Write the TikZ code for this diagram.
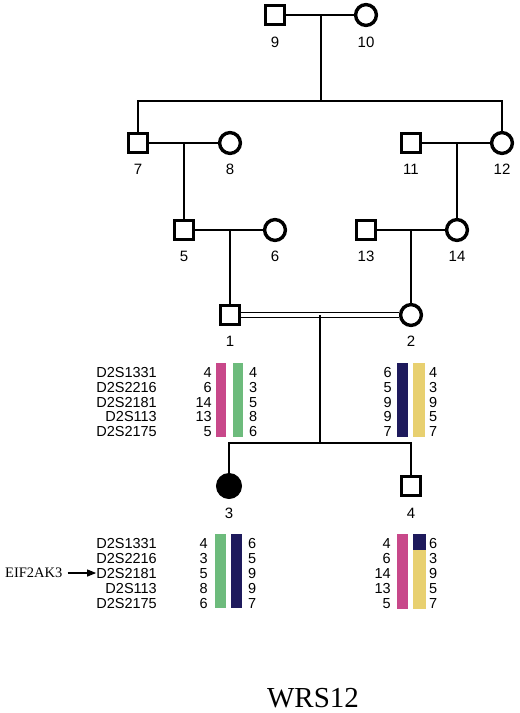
\documentclass[tikz,border=0pt]{standalone}
\usepackage{fontspec}
\setmainfont{Liberation Serif}
\setsansfont{Liberation Sans}
\usetikzlibrary{arrows.meta}
\definecolor{hpink}{HTML}{C8488A}
\definecolor{hgreen}{HTML}{6DBB7C}
\definecolor{hnavy}{HTML}{1E1A5C}
\definecolor{hyellow}{HTML}{E8D070}
\tikzset{
  male/.style={draw, rectangle, line width=2.8pt, minimum size=18.5pt, inner sep=0pt},
  female/.style={draw, circle, line width=3.4pt, minimum size=20.8pt, inner sep=0pt},
  affected/.style={draw, circle, line width=1pt, fill=black, minimum size=25pt, inner sep=0pt},
  lbl/.style={font=\sffamily\fontsize{15}{15}\selectfont, inner sep=0pt},
  mk/.style={font=\sffamily\fontsize{14.5}{14.5}\selectfont, inner sep=0pt, text height=10.4pt, text depth=0pt},
  rel/.style={line width=1.8pt}
}
\begin{document}
\begin{tikzpicture}[x=1pt,y=-1pt]
\useasboundingbox (0,0) rectangle (520,713);
% generation I
\node[male] (n9) at (275,15) {};
\node[female] (n10) at (366,15) {};
\node[lbl] (l9) at (275,42) {9};
\node[lbl] (l10) at (366,42) {10};
% generation II
\node[male] (n7) at (138,143) {};
\node[female] (n8) at (230,143) {};
\node[male] (n11) at (411,143) {};
\node[female] (n12) at (502,143) {};
\node[lbl] (l7) at (138,169) {7};
\node[lbl] (l8) at (230,169) {8};
\node[lbl] (l11) at (411,169) {11};
\node[lbl] (l12) at (502,169) {12};
% generation III
\node[male] (n5) at (184,230) {};
\node[female] (n6) at (275,230) {};
\node[male] (n13) at (366,230) {};
\node[female] (n14) at (457,230) {};
\node[lbl] (l5) at (184,256) {5};
\node[lbl] (l6) at (275,256) {6};
\node[lbl] (l13) at (366,256) {13};
\node[lbl] (l14) at (457,256) {14};
% generation IV
\node[male] (n1) at (230,315) {};
\node[female] (n2) at (411,315) {};
\node[lbl] (l1) at (230,341) {1};
\node[lbl] (l2) at (411,341) {2};
% generation V
\node[affected] (n3) at (229,486) {};
\node[male] (n4) at (411,486) {};
\node[lbl] (l3) at (229,513) {3};
\node[lbl] (l4) at (411,513) {4};

% connectors
\coordinate (m910) at (321,15);
\coordinate (s910) at (321,101);
\draw[rel] (n9) -- (n10);
\draw[rel] (m910) -- (s910);
\draw[rel] (n7.north) |- (s910) -| (n12.north);
\coordinate (m78) at (184,143);
\coordinate (m1112) at (457,143);
\draw[rel] (n7) -- (n8);
\draw[rel] (n11) -- (n12);
\draw[rel] (m78) -- (n5);
\draw[rel] (m1112) -- (n14);
\coordinate (m56) at (230,230);
\coordinate (m1314) at (411,230);
\draw[rel] (n5) -- (n6);
\draw[rel] (n13) -- (n14);
\draw[rel] (m56) -- (n1);
\draw[rel] (m1314) -- (n2);
\draw[line width=1.4pt, double, double distance=3.2pt] (n1) -- (n2);
\coordinate (m12) at (320,315);
\coordinate (s12) at (320,443);
\draw[rel] (m12) -- (s12);
\draw[rel] (n3.north) |- (s12) -| (n4.north);

% haplotypes of parents
\foreach \nm/\y/\a/\b/\c/\d [count=\i] in {D2S1331/372/4/4/6/4, D2S2216/387/6/3/5/3, D2S2181/402/14/5/9/9, D2S113/416/13/8/9/5, D2S2175/431/5/6/7/7}{
  \node[mk, anchor=east] (pm\i) at (157,\y) {\nm};
  \node[mk, anchor=east] (pa\i) at (212,\y) {\a};
  \node[mk, anchor=west] (pb\i) at (249,\y) {\b};
  \node[mk, anchor=east] (pc\i) at (392,\y) {\c};
  \node[mk, anchor=west] (pd\i) at (429,\y) {\d};
}
\fill[hpink] (216,363) rectangle (226,437);
\fill[hgreen] (233,363) rectangle (243,437);
\fill[hnavy] (397,363) rectangle (408,437);
\fill[hyellow] (413,363) rectangle (425,437);

% haplotypes of children
\foreach \nm/\y/\a/\b/\c/\d [count=\i] in {D2S1331/543/4/6/4/6, D2S2216/558/3/5/6/3, D2S2181/573/5/9/14/9, D2S113/588/8/9/13/5, D2S2175/603/6/7/5/7}{
  \node[mk, anchor=east] (cm\i) at (157,\y) {\nm};
  \node[mk, anchor=east] (ca\i) at (208,\y) {\a};
  \node[mk, anchor=west] (cb\i) at (248,\y) {\b};
  \node[mk, anchor=east] (cc\i) at (391,\y) {\c};
  \node[mk, anchor=west] (cd\i) at (429,\y) {\d};
}
\fill[hgreen] (215,534) rectangle (226,608);
\fill[hnavy] (231,534) rectangle (242,608);
\fill[hpink] (397,534) rectangle (408,609);
\fill[hnavy] (413,534) rectangle (426,550);
\fill[hyellow] (413,550) rectangle (426,609);

% gene marker
\node[font=\fontsize{14.5}{14.5}\selectfont, anchor=west, inner sep=0pt] (gene) at (5,573) {EIF2AK3};
\draw[line width=1.1pt, -{Triangle[length=9pt,width=7pt]}] (gene.east) ++(5,0) coordinate (gs) (gs) -- (cm3.west);

% title
\node[font=\fontsize{29}{29}\selectfont, inner sep=0pt] (title) at (313,698) {WRS12};
\end{tikzpicture}
\end{document}
